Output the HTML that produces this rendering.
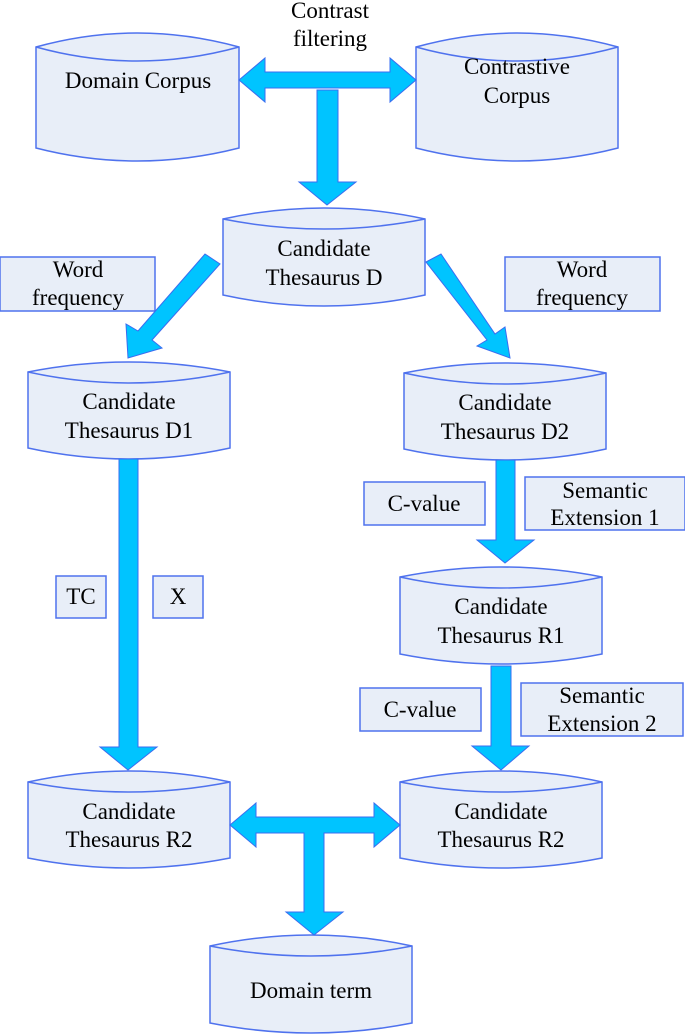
<!DOCTYPE html>
<html><head><meta charset="utf-8"><style>
html,body{margin:0;padding:0;background:#fff}
svg{display:block}
svg text{font-family:"Liberation Serif","Times New Roman","DejaVu Serif","Noto Serif CJK SC",serif;font-size:23px;fill:#000;text-anchor:middle}
.c{fill:#e8eef8;stroke:#4f72ee;stroke-width:1.5}
.b{fill:#e8eef8;stroke:#4f72ee;stroke-width:1.5}
.a{fill:#00c4ff;stroke:#3a6cf0;stroke-width:1}
</style></head><body>
<svg width="685" height="1034" viewBox="0 0 685 1034" xmlns="http://www.w3.org/2000/svg">
<path class="c" d="M36,47 Q137,19 239,47 L239,148 Q137,174 36,148 Z"/>
<path class="c" d="M36,47 Q137,75 239,47" fill="none"/>
<path class="c" d="M416,47 Q517,19 618,47 L618,148 Q517,174 416,148 Z"/>
<path class="c" d="M416,47 Q517,75 618,47" fill="none"/>
<path class="c" d="M223,219 Q324,197 425,219 L425,295 Q324,317 223,295 Z"/>
<path class="c" d="M223,219 Q324,239 425,219" fill="none"/>
<path class="c" d="M28,372 Q129,352 230,372 L230,448 Q129,470 28,448 Z"/>
<path class="c" d="M28,372 Q129,394 230,372" fill="none"/>
<path class="c" d="M404,373 Q505,353 606,373 L606,449 Q505,471 404,449 Z"/>
<path class="c" d="M404,373 Q505,395 606,373" fill="none"/>
<path class="c" d="M400,577 Q501,557 602,577 L602,654 Q501,674 400,654 Z"/>
<path class="c" d="M400,577 Q501,599 602,577" fill="none"/>
<path class="c" d="M28,782 Q129,760 230,782 L230,858 Q129,878 28,858 Z"/>
<path class="c" d="M28,782 Q129,802 230,782" fill="none"/>
<path class="c" d="M400,782 Q501,760 602,782 L602,858 Q501,878 400,858 Z"/>
<path class="c" d="M400,782 Q501,802 602,782" fill="none"/>
<path class="c" d="M210,946 Q311,924 412,946 L412,1023 Q311,1043 210,1023 Z"/>
<path class="c" d="M210,946 Q311,966 412,946" fill="none"/>

<rect class="b" x="0" y="257" width="155" height="54"/>
<rect class="b" x="505" y="257" width="155" height="54"/>
<rect class="b" x="56" y="576" width="50" height="42"/>
<rect class="b" x="153" y="576" width="50" height="42"/>
<rect class="b" x="364" y="482" width="121" height="43"/>
<rect class="b" x="525" y="477" width="160" height="53"/>
<rect class="b" x="360" y="688" width="121" height="43"/>
<rect class="b" x="521" y="683" width="162" height="53"/>

<path class="a" d="M239,80 L265,58 L265,72 L390,72 L390,58 L416,80 L390,102 L390,88 L265,88 L265,102 Z"/>
<path class="a" d="M317,90 L338,90 L338,182 L356,182 L327,205 L299,182 L317,182 Z"/>
<path class="a" d="M205,254 L220,264 L152,340 L162,348 L128,358 L126,324 L138,331 Z"/>
<path class="a" d="M426,262 L441,254 L495,334 L505,327 L510,358 L477,346 L487,340 Z"/>
<path class="a" d="M119,459 L138,459 L138,747 L157,747 L128,770 L100,747 L119,747 Z"/>
<path class="a" d="M496,460 L515,460 L515,540 L534,540 L505,563 L477,540 L496,540 Z"/>
<path class="a" d="M491,666 L511,666 L511,746 L529,746 L501,770 L472,746 L491,746 Z"/>
<path class="a" d="M230,825 L256,803 L256,817 L374,817 L374,803 L400,825 L374,847 L374,833 L324,833 L324,912 L343,912 L314,935 L286,912 L304,912 L304,833 L256,833 L256,847 Z"/>

<text x="330" y="18">Contrast</text>
<text x="330" y="46">filtering</text>
<text x="138" y="88">Domain Corpus</text>
<text x="517" y="74">Contrastive</text>
<text x="517" y="103">Corpus</text>
<text x="324" y="256">Candidate</text>
<text x="324" y="285">Thesaurus D</text>
<text x="78" y="277">Word</text>
<text x="78" y="305">frequency</text>
<text x="582" y="277">Word</text>
<text x="582" y="305">frequency</text>
<text x="129" y="409">Candidate</text>
<text x="129" y="438">Thesaurus D1</text>
<text x="505" y="410">Candidate</text>
<text x="505" y="439">Thesaurus D2</text>
<text x="81" y="604">TC</text>
<text x="178" y="604">X</text>
<text x="424" y="511">C-value</text>
<text x="605" y="498">Semantic</text>
<text x="605" y="525">Extension 1</text>
<text x="501" y="614">Candidate</text>
<text x="501" y="643">Thesaurus R1</text>
<text x="420" y="717">C-value</text>
<text x="602" y="703">Semantic</text>
<text x="602" y="731">Extension 2</text>
<text x="129" y="819">Candidate</text>
<text x="129" y="847">Thesaurus R2</text>
<text x="501" y="819">Candidate</text>
<text x="501" y="847">Thesaurus R2</text>
<text x="311" y="998">Domain term</text>
</svg>
</body></html>
